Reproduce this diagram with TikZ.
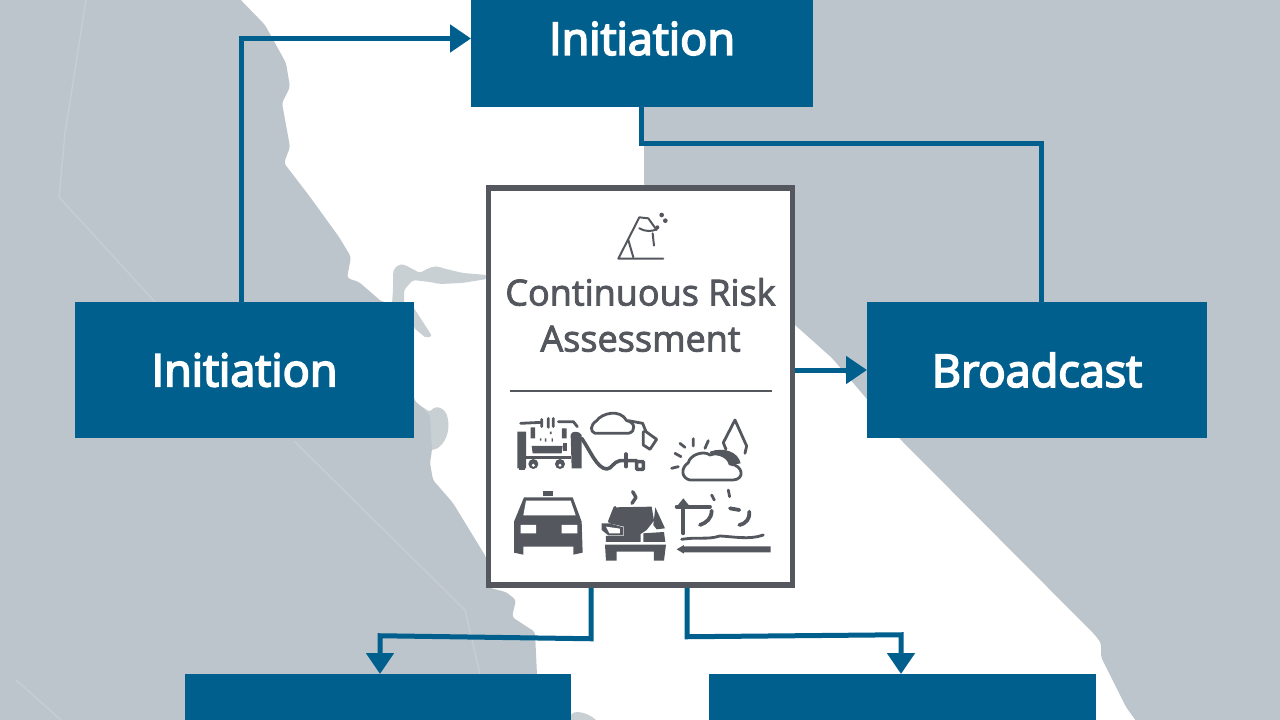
\documentclass[tikz,border=0pt]{standalone}
\usepackage{fontspec}
\setmainfont{Open Sans}
\newfontfamily\boxfont[FakeBold=4]{Open Sans}
\newfontfamily\riskfont[FakeBold=2.4]{Open Sans}
\usetikzlibrary{arrows.meta}
\definecolor{landgray}{HTML}{BCC5CB}
\definecolor{landpale}{HTML}{C9D0D4}
\definecolor{seam}{HTML}{C6CED2}
\definecolor{deepblue}{HTML}{005F8C}
\definecolor{slate}{HTML}{54585E}
\tikzset{
  land/.style={fill=landgray,draw=none,rounded corners=3pt},
  paleland/.style={fill=landpale,draw=none,rounded corners=2pt},
  seamline/.style={draw=seam,line width=1.4pt,line join=round},
  bluebox/.style={draw=none,fill=deepblue,inner sep=0pt,outer sep=0pt,minimum width=#1,minimum height=136pt,text=white,font=\boxfont\fontsize{45}{50}\selectfont},
  conn/.style={draw=deepblue,line width=5pt,line join=miter},
  head/.style={-{Triangle[length=21pt,width=27pt]}},
  ico/.style={draw=slate,line width=2.8pt,line cap=round,line join=round},
  thinico/.style={draw=slate,line width=2pt,line cap=round,line join=round}
}
\begin{document}
\begin{tikzpicture}[x=1pt,y=-1pt]
\useasboundingbox (0,0) rectangle (1280,720);
\fill[white] (0,0) rectangle (1280,720);
% bay, under the land
\path[paleland] (412,400) -- (430,412) .. controls (436,404) and (446,408) .. (448,420) .. controls (450,435) and (442,448) .. (432,450) -- (412,450) -- cycle;
% left land
\path[land] (-5,-5) -- (236,-5) -- (265,25) -- (286,63) -- (290,87) -- (282,103) -- (290,147) -- (284,163) -- (310,197) -- (339,237) -- (351,257) -- (347,278) -- (359,282) -- (382,302) -- (414,302) -- (414,400) -- (430,415) -- (432,450) -- (430,463) -- (433,480) -- (453,503) -- (486,557) -- (490,588) -- (506,592) -- (516,600) -- (512,617) -- (535,632) -- (537,675) -- (537,725) -- (-5,725) -- cycle;
% estuary
\path[paleland] (393,273) .. controls (395,266) and (400,264) .. (405,265) -- (420,273) .. controls (428,268) and (435,265) .. (442,268) -- (463,273) -- (487,275) -- (487,279) -- (462,283) -- (440,284) -- (430,282) -- (413,280) -- (404,290) -- (404,304) -- (392,304) -- (393,290) -- cycle;
\path[paleland] (410,302) -- (432,336) -- (426,338) -- (414,328) -- cycle;
% small bit below the lower box
\path[paleland] (565,722) -- (572,713) .. controls (580,711) and (590,714) .. (598,722) -- cycle;
% right land
\path[land] (640,-5) -- (1285,-5) -- (1285,725) -- (1139,725) -- (1126,707) -- (1101,657) -- (1101,643) -- (1095,635) -- (901,440) -- (866,398) -- (832,358) -- (795,325) -- (644,186) -- (644,107) -- (640,107) -- cycle;
% seams
\draw[seamline] (86,0) -- (65,133) -- (59,197) -- (155,302);
\draw[seamline] (294,441) -- (465,610) -- (480,674);
\draw[seamline] (16,680) -- (61,720);

% boxes
\node[bluebox=342pt] (topbox) at (642,38.5) {Initiation};
\node[bluebox=339pt] (leftbox) at (244.5,370) {Initiation};
\node[bluebox=340pt] (rightbox) at (1037,370) {Broadcast};
\node[bluebox=386pt] (lowleft) at (378,742) {};
\node[bluebox=387pt] (lowright) at (902.5,742) {};
\node[draw=slate,fill=white,line width=5.5pt,inner sep=0pt,outer sep=2.75pt,minimum width=304pt,minimum height=397pt] (assess) at (640.5,386.5) {};
\node[inner sep=0pt,text=slate,font=\riskfont\fontsize{36}{46}\selectfont,align=center] (risktitle) at (640.5,315) {Continuous Risk\\Assessment};
\coordinate (ruleL) at (510,391);
\coordinate (ruleR) at (772,391);
\draw[draw=slate,line width=2.4pt] (ruleL) -- (ruleR);

% connectors
\draw[conn,head] ([xshift=-3.5pt]leftbox.north) |- (topbox.west);
\draw[conn] ([xshift=-1pt]topbox.south) -- ++(0,37) -| ([xshift=4pt]rightbox.north);
\draw[conn,head] (assess.east |- rightbox.west) -- (rightbox.west);
\draw[conn,head] ([xshift=-49.5pt]assess.south) -- ++(0,51) -- ++(-211,-3) -- ([xshift=2pt]lowleft.north);
\draw[conn,head] ([xshift=46.5pt]assess.south) -- ++(0,49) -- ++(214,-2) -- ([xshift=-1.5pt]lowright.north);

% top icon
\begin{scope}[shift={(480,180)},x=0.3333pt,y=-0.3333pt]
\draw[thinico] (550,236) -- (415,236) -- (478,112) -- (505,115) -- (530,150);
\draw[thinico] (445,180) -- (460,232);
\draw[thinico] (478,145) .. controls (495,155) and (515,155) .. (530,148);
\draw[thinico] (518,160) -- (522,197);
\fill[slate] (545,105) circle (7) (556,122) circle (7) (532,142) circle (6);
\end{scope}

\begin{scope}[shift={(480,390)},x=0.3333pt,y=-0.3333pt]
% machine icon
\draw[ico] (122,100) -- (185,97) (185,88) -- (185,110) (205,85) -- (205,112) (220,85) -- (220,110) (235,95) -- (280,95) -- (292,110);
\fill[slate] (112,125) rectangle (138,235) (152,112) rectangle (165,145) (246,115) rectangle (260,145);
\fill[slate] (155,168) -- (248,168) -- (245,190) -- (158,190) -- cycle;
\fill[slate] (138,197) rectangle (272,208);
\fill[slate] (160,222) circle (15) (240,222) circle (15);
\fill[white] (160,226) circle (5) (240,226) circle (5);
\fill[slate] (118,225) rectangle (136,240);
\fill[slate] (250,160) rectangle (262,182);
\fill[slate] (180,145) rectangle (184,152) (195,145) rectangle (199,155) (210,125) rectangle (215,132) (215,145) rectangle (219,155);
\fill[slate] (272,135) .. controls (272,122) and (300,122) .. (305,135) -- (305,235) -- (275,235) -- cycle;
\draw[ico,line width=3.6pt] (305,145) .. controls (330,180) and (350,235) .. (380,237) .. controls (395,237) and (400,215) .. (420,212) -- (470,212) -- (470,238) -- (490,238) -- (490,215) -- (470,215);
\draw[ico,line width=3.6pt] (438,192) -- (438,230);
% cloud
\draw[ico] (345,130) .. controls (330,125) and (330,105) .. (350,92) .. controls (365,70) and (420,55) .. (440,92) .. controls (465,95) and (470,125) .. (445,130) -- cycle;
\draw[ico] (445,92) -- (488,100) -- (498,125) -- (530,148) -- (510,178) -- (490,165) -- (490,125);
% sun and cloud
\fill[slate] (690,185) .. controls (730,170) and (775,185) .. (782,220) -- (755,225) .. controls (745,205) and (720,195) .. (690,190) -- cycle;
\draw[ico] (630,270) .. controls (605,265) and (600,235) .. (625,218) .. controls (630,195) and (670,180) .. (690,195) .. controls (715,185) and (745,200) .. (750,222) .. controls (790,225) and (795,268) .. (760,270) -- cycle;
\draw[ico] (738,178) -- (730,158) -- (765,90) -- (800,168) -- (795,190);
\draw[ico] (585,190) -- (603,200) (600,160) -- (615,172) (640,146) -- (640,168) (685,152) -- (675,175) (575,235) -- (595,230);
% car 1
\fill[slate] (132,322) -- (278,322) -- (305,395) -- (308,488) -- (280,494) -- (280,470) -- (130,470) -- (130,494) -- (102,488) -- (102,395) -- cycle;
\fill[white] (138,332) -- (272,332) -- (287,376) -- (130,376) -- cycle;
\fill[white] (122,405) rectangle (168,430) (245,405) rectangle (292,430);
\fill[slate] (190,303) rectangle (218,318);
% car 2
\fill[slate] (405,352) -- (515,350) -- (522,392) -- (500,420) -- (482,432) -- (482,456) -- (378,456) -- (378,438) -- (432,438) -- (432,410) -- (388,400) -- cycle;
\fill[slate] (526,352) -- (555,415) -- (530,418) -- (520,405) -- cycle;
\draw[ico] (405,352) -- (388,395);
\fill[slate] (365,400) -- (388,400) -- (430,412) -- (430,436) -- (385,436) -- (365,420) -- cycle;
\fill[white] (378,410) -- (420,416) -- (420,430) -- (388,430) -- cycle;
\fill[slate] (490,430) -- (552,426) -- (556,456) -- (490,456) -- cycle;
\fill[slate] (375,464) -- (558,464) -- (552,512) -- (522,512) -- (522,485) -- (410,485) -- (410,512) -- (378,512) -- cycle;
\draw[ico,line width=3.4pt] (458,305) -- (468,322) -- (456,340);
% road icon
\draw[ico,line width=3.8pt] (610,345) -- (610,430) (590,350) -- (690,350);
\fill[slate] (610,325) -- (630,350) -- (590,350) -- cycle;
\draw[ico,line width=3.8pt] (695,362) .. controls (695,385) and (680,398) .. (660,405);
\draw[ico,line width=3.8pt] (750,355) -- (778,360) (808,365) .. controls (810,385) and (800,400) .. (778,405);
\draw[ico] (695,315) -- (703,330) (745,300) -- (749,320);
\draw[ico] (605,448) .. controls (660,440) and (680,450) .. (720,438) .. controls (760,440) and (810,450) .. (850,435);
\fill[slate] (590,478) -- (612,465) -- (612,469) -- (872,469) -- (872,487) -- (612,487) -- (612,491) -- cycle;
\end{scope}
\end{tikzpicture}
\end{document}
